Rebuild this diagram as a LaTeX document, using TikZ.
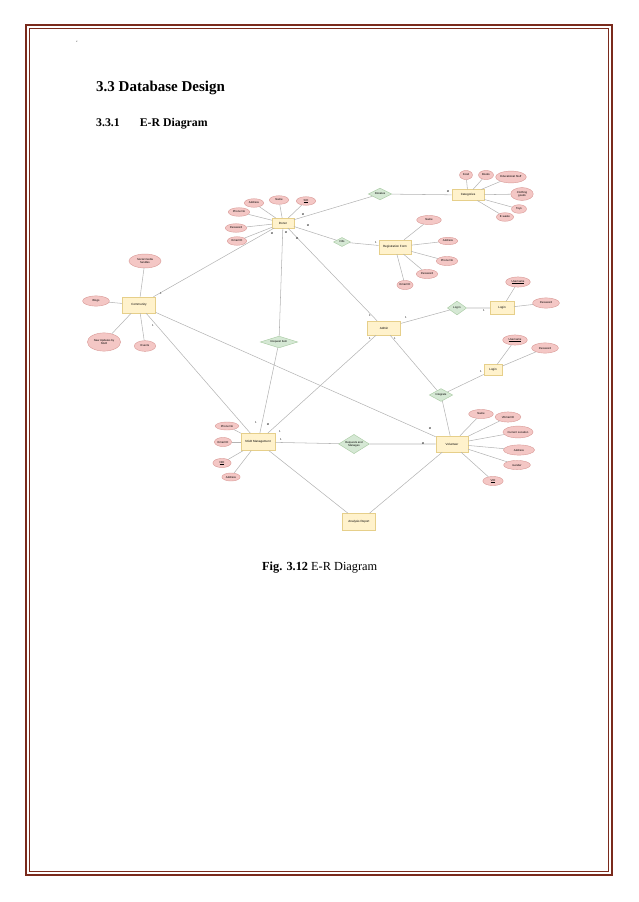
\documentclass[tikz,border=0pt]{standalone}
\usepackage{fontspec}
\setmainfont{Liberation Serif}
\newfontfamily\ersans{Liberation Sans}
\usetikzlibrary{shapes.geometric}

\definecolor{frame}{HTML}{7A2A1C}
\definecolor{entfill}{HTML}{FFF2CC}
\definecolor{entdraw}{HTML}{E6CF8A}
\definecolor{attfill}{HTML}{F4C7C5}
\definecolor{attdraw}{HTML}{D99A97}
\definecolor{relfill}{HTML}{D5E8D4}
\definecolor{reldraw}{HTML}{A9CBA3}
\definecolor{linegray}{HTML}{B4B4B4}

% thin underline for key attributes
\newcommand{\erkey}[1]{\setbox0\hbox{#1}\vtop{\copy0\kern0.3pt\hrule height0.12pt width\wd0}}

\begin{document}
\begin{tikzpicture}[x=0.933pt, y=-0.933pt,
    entity/.style={draw=entdraw, fill=entfill, font=\ersans\fontsize{2.8}{3.2}\selectfont,
        minimum width=30pt, minimum height=13pt, inner sep=0.5pt, align=center},
    attr/.style={ellipse, draw=attdraw, fill=attfill, font=\ersans\fontsize{2.6}{3}\selectfont,
        minimum width=18pt, minimum height=8pt, inner sep=0.3pt, align=center},
    rel/.style={diamond, draw=reldraw, fill=relfill, font=\ersans\fontsize{2.6}{3}\selectfont,
        aspect=2, inner sep=0.3pt, minimum width=22pt, minimum height=11pt, align=center},
    conn/.style={draw=linegray, line width=0.5pt},
    card/.style={font=\ersans\fontsize{2.6}{3}\selectfont, inner sep=0pt}]

    \useasboundingbox (0,0) rectangle (638,902);

    % page frame
    \draw[frame, line width=1.5pt] (26,25) rectangle (612,875);
    \draw[frame, line width=0.5pt] (29.5,28.5) rectangle (608.5,871.5);
    \node[font=\tiny] (tick) at (77,43) {`};

    \node[anchor=base west, inner sep=0pt, font=\bfseries\fontsize{14}{16}\selectfont] (title) at (96,91) {3.3 Database Design};
    \node[anchor=base west, inner sep=0pt, font=\bfseries\fontsize{11}{13}\selectfont] (subtitle) at (96,126) {3.3.1\hspace{1.7em}E-R Diagram};
    \node[anchor=base west, inner sep=0pt, font=\fontsize{11.5}{13}\selectfont] (caption) at (262,570) {\textbf{Fig. 3.12} E-R Diagram};

    % entities
    \node[entity, minimum width=20pt, minimum height=9pt] (donor) at (283,223) {Donor};
    \node[entity, minimum height=10pt] (categ) at (468,195) {Categories};
    \node[entity] (regform) at (395,247) {Registration Form};
    \node[entity, minimum width=22pt, minimum height=12pt] (login) at (502,308) {Login};
    \node[entity, minimum width=31pt] (admin) at (384,328) {Admin};
    \node[entity, minimum width=17pt, minimum height=10pt] (login2) at (493,370) {Login};
    \node[entity, minimum height=15pt] (volunteer) at (452,444) {Volunteer};
    \node[entity, minimum width=32pt, minimum height=16pt] (ngo) at (258,442) {NGO Management};
    \node[entity, minimum width=31pt, minimum height=16pt] (report) at (359,522) {Analysis Report};
    \node[entity, minimum width=31pt, minimum height=15pt] (community) at (139,305) {Community};

    % relations
    \node[rel] (donates) at (380,194) {Donates};
    \node[rel, minimum width=16pt, minimum height=8.5pt] (fills) at (342,242) {Fills};
    \node[rel, minimum width=18pt, minimum height=13pt] (logsin) at (457,308) {Log in};
    \node[rel, minimum width=35pt, minimum height=11pt] (reqitem) at (279,342) {Request Item};
    \node[rel, minimum height=12pt] (integrate) at (441,395) {Integrate};
    \node[rel, minimum width=28pt, minimum height=18pt] (reqman) at (354,444) {Requests and\\Manages};

    % attributes
    \node[attr] (daddr) at (254,203) {Address};
    \node[attr] (dname) at (279,200) {Name};
    \node[attr] (dsid) at (306,201) {\erkey{SID}};
    \node[attr, minimum width=20pt] (dphone) at (239,212) {Phone No};
    \node[attr, minimum width=20pt] (dpass) at (236,228) {Password};
    \node[attr] (demail) at (237,241) {Email ID};

    \node[attr, minimum width=12pt, minimum height=8.5pt] (cfood) at (466,175) {Food};
    \node[attr, minimum width=14pt, minimum height=8.5pt] (cbooks) at (486,175) {Books};
    \node[attr, minimum width=25pt, minimum height=11pt] (cedu) at (511,177) {Educational Stuff};
    \node[attr, minimum width=21pt, minimum height=12pt] (ccloth) at (522,194) {Clothing\\goods};
    \node[attr, minimum width=14pt] (ctoys) at (519,209) {Toys};
    \node[attr, minimum width=16pt] (cwaste) at (505,217) {E-waste};

    \node[attr, minimum width=23pt, minimum height=8.5pt] (rname) at (429,220) {Name};
    \node[attr, minimum height=7pt] (raddr) at (448,241) {Address};
    \node[attr, minimum width=20pt, minimum height=8.5pt] (rphone) at (447,261) {Phone No};
    \node[attr, minimum width=20pt, minimum height=8.5pt] (rpass) at (427,274) {Password};
    \node[attr, minimum width=15pt, minimum height=8.5pt] (remail) at (405,285) {Email ID};

    \node[attr, minimum width=23pt, minimum height=9.5pt] (luser) at (518,282) {\erkey{Username}};
    \node[attr, minimum width=25pt, minimum height=9.5pt] (lpass) at (546,303) {Password};
    \node[attr, minimum width=23pt, minimum height=9.5pt] (luser2) at (515,340) {\erkey{Username}};
    \node[attr, minimum width=25pt, minimum height=9.5pt] (lpass2) at (545,348) {Password};

    \node[attr, minimum width=23pt, minimum height=8.5pt] (vname) at (481,414) {Name};
    \node[attr, minimum width=24pt, minimum height=9.5pt] (vemail) at (508,417) {VEmail ID};
    \node[attr, minimum width=27pt, minimum height=11pt] (vloc) at (518,432) {Current Location};
    \node[attr, minimum width=29pt, minimum height=9.5pt] (vaddr) at (519,450) {Address};
    \node[attr, minimum width=25pt, minimum height=8.5pt] (vgender) at (517,465) {Gender};
    \node[attr, minimum width=19pt, minimum height=8.5pt] (vvid) at (493,481) {\erkey{VID}};

    \node[attr, minimum width=22pt, minimum height=7.5pt] (nphone) at (227,426) {Phone No};
    \node[attr, minimum width=16pt, minimum height=8.5pt] (nemail) at (223,442) {Email ID};
    \node[attr, minimum width=17pt, minimum height=8.5pt] (nnid) at (222,463) {\erkey{NID}};
    \node[attr, minimum width=17pt, minimum height=7.5pt] (naddr) at (231,477) {Address};

    \node[attr, minimum width=30pt, minimum height=13pt] (msocial) at (145,261) {Social media\\handles};
    \node[attr, minimum width=25pt, minimum height=9.5pt] (mblogs) at (96,301) {Blogs};
    \node[attr, minimum width=31pt, minimum height=17pt] (mupdates) at (104,342) {New Updates by\\NGO};
    \node[attr, minimum width=20pt, minimum height=10pt] (mevents) at (145,346) {Events};

    % connectors
    \foreach \a in {daddr,dname,dsid,dphone,dpass,demail}
        \draw[conn] (\a) -- (donor);
    \foreach \a in {cfood,cbooks,cedu,ccloth,ctoys,cwaste}
        \draw[conn] (\a) -- (categ);
    \foreach \a in {rname,raddr,rphone,rpass,remail}
        \draw[conn] (\a) -- (regform);
    \foreach \a in {vname,vemail,vloc,vaddr,vgender,vvid}
        \draw[conn] (\a) -- (volunteer);
    \foreach \a in {nphone,nemail,nnid,naddr}
        \draw[conn] (\a) -- (ngo);
    \foreach \a in {msocial,mblogs,mupdates,mevents}
        \draw[conn] (\a) -- (community);
    \draw[conn] (luser) -- (login);
    \draw[conn] (lpass) -- (login);
    \draw[conn] (luser2) -- (login2);
    \draw[conn] (lpass2) -- (login2);

    \draw[conn] (donor) -- (donates) -- (categ);
    \draw[conn] (donor) -- (fills) -- (regform);
    \draw[conn] (donor) -- (admin);
    \draw[conn] (donor) -- (reqitem) -- (ngo);
    \draw[conn] (donor) -- (community);
    \draw[conn] (admin) -- (logsin) -- (login);
    \draw[conn] (admin) -- (integrate);
    \draw[conn] (login2) -- (integrate) -- (volunteer);
    \draw[conn] (admin) -- (ngo);
    \draw[conn] (community) -- (ngo);
    \draw[conn] (community) -- (volunteer);
    \draw[conn] (ngo) -- (reqman) -- (volunteer);
    \draw[conn] (ngo) -- (report) -- (volunteer);

    % cardinalities
    \node[card] (k1) at (303,215) {M};
    \node[card] (k2) at (308,226) {M};
    \node[card] (k3) at (272,234) {M};
    \node[card] (k4) at (286,233) {M};
    \node[card] (k5) at (297,239) {M};
    \node[card] (k6) at (448,192) {M};
    \node[card] (k7) at (376,243) {1};
    \node[card] (k8) at (370,316) {1};
    \node[card] (k9) at (406,318) {1};
    \node[card] (k10) at (370,339) {1};
    \node[card] (k11) at (395,339) {1};
    \node[card] (k12) at (484,311) {1};
    \node[card] (k13) at (481,372) {1};
    \node[card] (k14) at (430,429) {M};
    \node[card] (k15) at (423,444) {M};
    \node[card] (k16) at (256,423) {1};
    \node[card] (k17) at (268,425) {M};
    \node[card] (k18) at (280,432) {1};
    \node[card] (k19) at (281,440) {1};
    \node[card] (k20) at (161,294) {1};
    \node[card] (k21) at (153,326) {1};

\end{tikzpicture}
\end{document}
